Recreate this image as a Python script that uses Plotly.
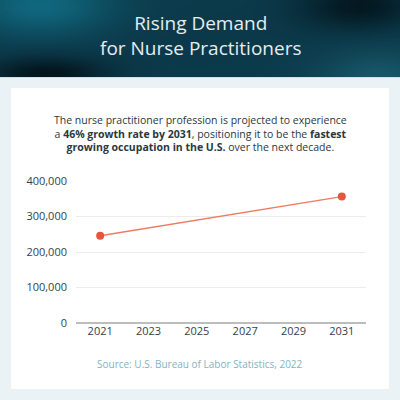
import base64, struct, zlib
import numpy as np
import plotly.graph_objects as go

# ---- data ----
years = [2021, 2031]
employment = [245500, 356000]
x_ticks = [2021, 2023, 2025, 2027, 2029, 2031]
y_ticks = [0, 100000, 200000, 300000, 400000]

title_text = "Rising Demand<br>for Nurse Practitioners"
body_text = ("The nurse practitioner profession is projected to experience<br>"
             "a <b>46% growth rate by 2031</b>, positioning it to be the <b>fastest</b><br>"
             "<b>growing occupation in the U.S.</b> over the next decade.")
source_text = "Source: U.S. Bureau of Labor Statistics, 2022"

# ---- header gradient image ----
W, H = 200, 40
xx, yy = np.meshgrid(np.linspace(0, 400, W), np.linspace(0, 77, H))
base = np.array([12, 60, 77], dtype=float)
img = np.zeros((H, W, 3)) + base
def blob(cx, cy, sx, sy, col, k):
    g = np.exp(-(((xx - cx) / sx) ** 2 + ((yy - cy) / sy) ** 2))
    return g[..., None] * (np.array(col, float) - base) * k
img += blob(40, 5, 70, 30, [16, 104, 126], 1.0)
img += blob(45, 75, 60, 18, [4, 22, 30], 1.0)
img += blob(360, 5, 60, 25, [4, 25, 34], 1.0)
img += blob(380, 80, 60, 30, [26, 90, 108], 0.9)
img += blob(200, 40, 120, 40, [11, 54, 70], 0.5)
img = np.clip(img, 0, 255).astype(np.uint8)
raw = b"".join(b"\x00" + img[r].tobytes() for r in range(H))
def chunk(t, d):
    c = struct.pack(">I", len(d)) + t + d
    return c + struct.pack(">I", zlib.crc32(t + d) & 0xffffffff)
png = (b"\x89PNG\r\n\x1a\n" + chunk(b"IHDR", struct.pack(">IIBBBBB", W, H, 8, 2, 0, 0, 0))
       + chunk(b"IDAT", zlib.compress(raw, 9)) + chunk(b"IEND", b""))
uri = "data:image/png;base64," + base64.b64encode(png).decode()

# ---- layout geometry (pixels) ----
L, R, T, B = 76, 34, 181, 77
PW, PH = 400 - L - R, 400 - T - B
def px(x): return (x - L) / PW
def py(y): return (400 - B - y) / PH

FONT = "Open Sans"

fig = go.Figure()
fig.add_trace(go.Scatter(
    x=years, y=employment, mode="lines+markers",
    line=dict(color="#f07a62", width=1.5),
    marker=dict(color="#e8553e", size=8),
    hoverinfo="skip", showlegend=False,
))

fig.update_layout(
    width=400, height=400,
    margin=dict(l=L, r=R, t=T, b=B),
    paper_bgcolor="#eaf2f6", plot_bgcolor="rgba(0,0,0,0)",
    font=dict(family=FONT, color="#333f48", size=11),
    xaxis=dict(range=[2020, 2032], tickvals=x_ticks, showgrid=False,
               zeroline=False, showline=False, ticks="",
               tickfont=dict(size=11, color="#333f48")),
    yaxis=dict(range=[0, 400000], tickvals=y_ticks, tickformat=",",
               showgrid=True, gridcolor="#ececec", gridwidth=1,
               zeroline=True, zerolinecolor="#bdbdbd", zerolinewidth=2.5,
               showline=False, ticks="", ticklabelstandoff=8,
               tickfont=dict(size=11, color="#333f48")),
    images=[dict(source=uri, xref="paper", yref="paper",
                 x=px(0), y=py(0), sizex=400 / PW, sizey=77 / PH,
                 xanchor="left", yanchor="top", sizing="stretch", layer="below")],
    shapes=[
        dict(type="rect", xref="paper", yref="paper", layer="below",
             x0=px(11), x1=px(389), y0=py(389), y1=py(88),
             fillcolor="white", line=dict(width=0)),
        dict(type="line", xref="paper", yref="paper", layer="below",
             x0=px(0), x1=px(400), y0=py(77.5), y1=py(77.5),
             line=dict(color="#cfe0e8", width=1)),
    ],
    annotations=[
        dict(text=title_text, xref="paper", yref="paper", x=px(200), y=py(36),
             xanchor="center", yanchor="middle", showarrow=False, align="center",
             font=dict(family=FONT, size=19, color="#e4edf1")),
        dict(text=body_text, xref="paper", yref="paper", x=px(200), y=py(133),
             xanchor="center", yanchor="middle", showarrow=False, align="center",
             font=dict(family=FONT, size=10.5, color="#2a3840")),
        dict(text=source_text, xref="paper", yref="paper", x=px(200), y=py(364),
             xanchor="center", yanchor="middle", showarrow=False, align="center",
             font=dict(family=FONT, size=10, color="#84b3c2")),
    ],
)

fig.write_html("out.html",
               config={"displayModeBar": False, "staticPlot": True},
               post_script="document.body.style.margin='0';document.body.style.overflow='hidden';")
